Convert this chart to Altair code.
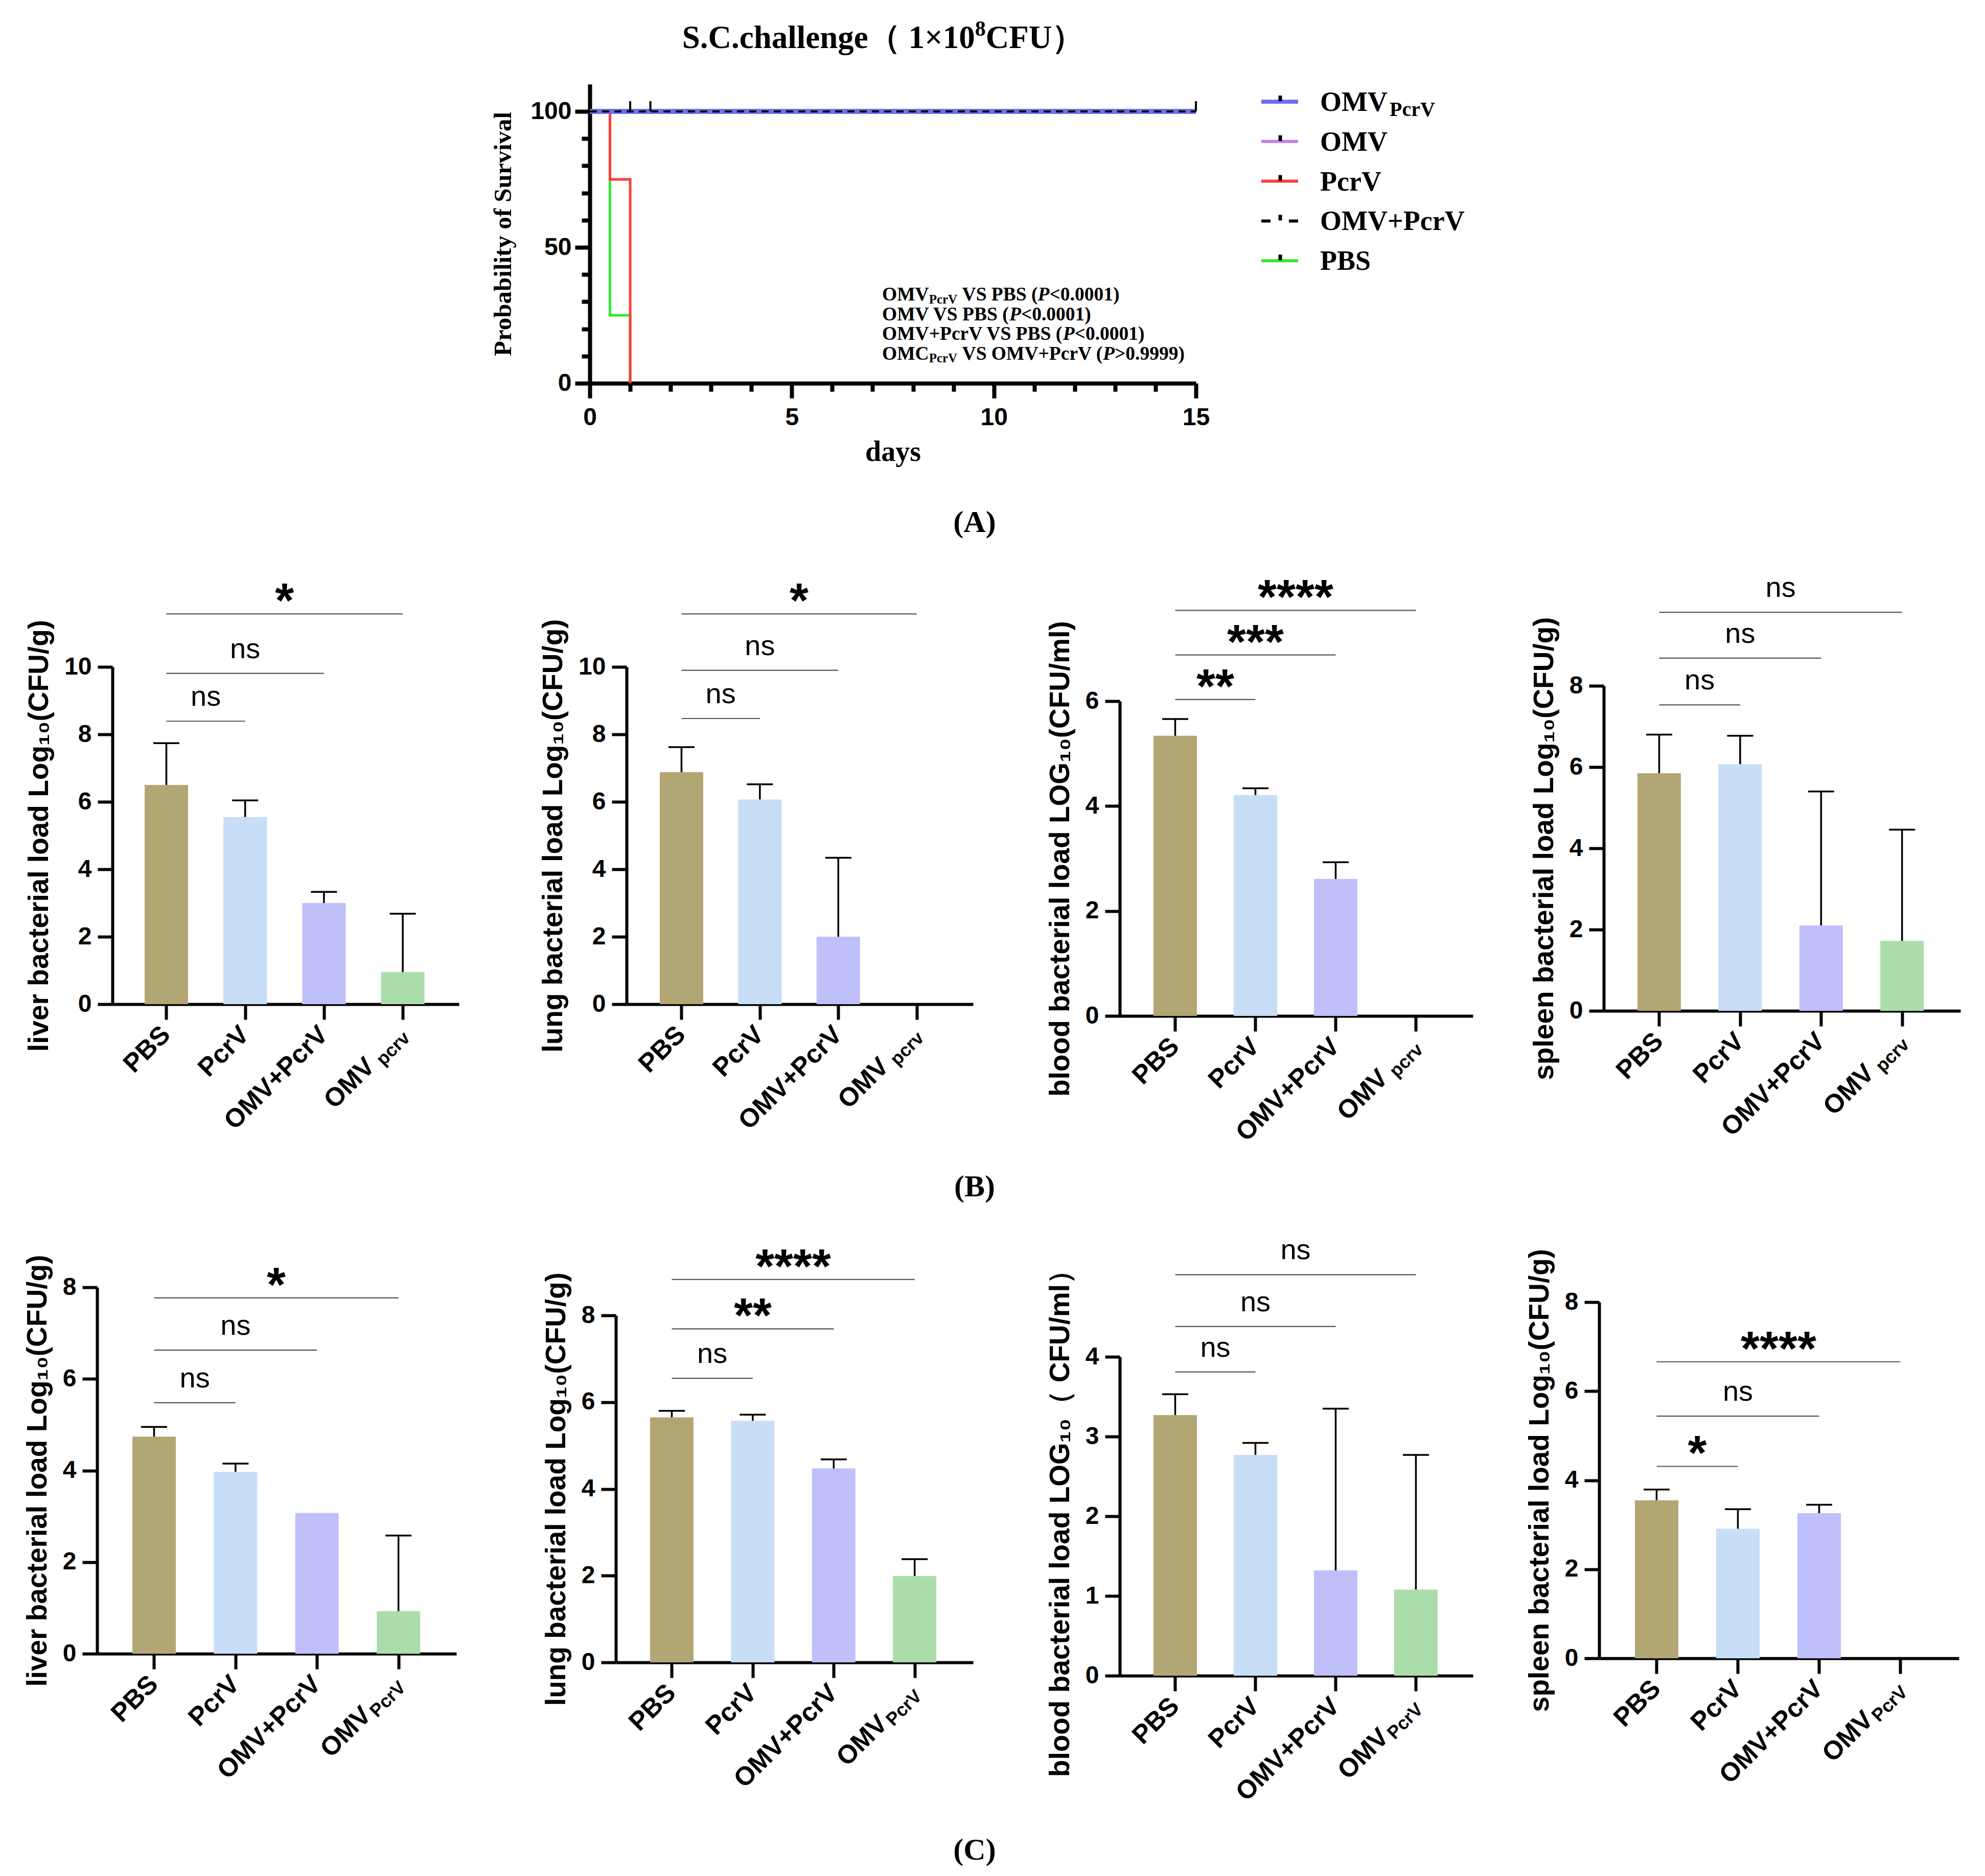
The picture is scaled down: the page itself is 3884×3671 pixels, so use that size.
import altair as alt
import pandas as pd

W, H = 3884, 3671
SANS = "Liberation Sans"
SERIF = "Liberation Serif"

# ======================= DATA =======================
groups = ["PBS", "PcrV", "OMV+PcrV", "OMVPcrV"]
tick_main = ["PBS", "PcrV", "OMV+PcrV", "OMV"]
tick_sub_b = ["", "", "", "pcrv"]
tick_sub_c = ["", "", "", "PcrV"]
bar_colors = ["#B2A774", "#C8DDF6", "#BFBFFA", "#ABDDAB"]

# (B) bacterial loads: mean and SD (upper error only)
b_liver_mean = [6.50, 5.55, 3.00, 0.95]
b_liver_sd = [1.24, 0.49, 0.33, 1.73]
b_lung_mean = [6.88, 6.07, 2.00, 0.00]
b_lung_sd = [0.74, 0.45, 2.34, 0.00]
b_blood_mean = [5.34, 4.21, 2.61, 0.00]
b_blood_sd = [0.32, 0.13, 0.32, 0.00]
b_spleen_mean = [5.85, 6.07, 2.10, 1.72]
b_spleen_sd = [0.95, 0.70, 3.30, 2.74]

# (C)
c_liver_mean = [4.74, 3.97, 3.07, 0.93]
c_liver_sd = [0.21, 0.18, 0.00, 1.65]
c_lung_mean = [5.65, 5.57, 4.47, 1.99]
c_lung_sd = [0.15, 0.14, 0.21, 0.39]
c_blood_mean = [3.27, 2.77, 1.32, 1.08]
c_blood_sd = [0.26, 0.15, 2.03, 1.69]
c_spleen_mean = [3.55, 2.91, 3.26, 0.00]
c_spleen_sd = [0.24, 0.44, 0.19, 0.00]

# significance brackets: PBS vs group index 1, 2, 3
sig_compare = [1, 2, 3]
b_liver_sig_y = [8.39, 9.81, 11.57]
b_liver_sig = ["ns", "ns", "*"]
b_lung_sig_y = [8.47, 9.90, 11.57]
b_lung_sig = ["ns", "ns", "*"]
b_blood_sig_y = [6.03, 6.88, 7.73]
b_blood_sig = ["**", "***", "****"]
b_spleen_sig_y = [7.53, 8.68, 9.81]
b_spleen_sig = ["ns", "ns", "ns"]
c_liver_sig_y = [5.48, 6.63, 7.77]
c_liver_sig = ["ns", "ns", "*"]
c_lung_sig_y = [6.55, 7.69, 8.83]
c_lung_sig = ["ns", "**", "****"]
c_blood_sig_y = [3.81, 4.38, 5.03]
c_blood_sig = ["ns", "ns", "ns"]
c_spleen_sig_y = [4.31, 5.44, 6.66]
c_spleen_sig = ["*", "ns", "****"]

# (A) survival
surv_days = {
    "PBS": [0, 0.5, 1],
    "PcrV": [0, 0.5, 1],
    "OMV": [0, 15],
    "OMVPcrV": [0, 15],
    "OMV+PcrV": [0, 15],
}
surv_pct = {
    "PBS": [100, 25, 0],
    "PcrV": [100, 75, 0],
    "OMV": [100, 100],
    "OMVPcrV": [100, 100],
    "OMV+PcrV": [100, 100],
}
censor_days = [1.0, 1.5, 15.0]
censor_pct = [100, 100, 100]
legend_order = ["OMVPcrV", "OMV", "PcrV", "OMV+PcrV", "PBS"]
legend_main = ["OMV", "OMV", "PcrV", "OMV+PcrV", "PBS"]
legend_sub = ["PcrV", "", "", "", ""]
annot_lines = [
    [("OMV", "n"), ("PcrV", "sub"), (" VS PBS (", "n"), ("P", "it"), ("<0.0001)", "n")],
    [("OMV VS PBS (", "n"), ("P", "it"), ("<0.0001)", "n")],
    [("OMV+PcrV VS PBS (", "n"), ("P", "it"), ("<0.0001)", "n")],
    [("OMC", "n"), ("PcrV", "sub"), (" VS OMV+PcrV (", "n"), ("P", "it"), (">0.9999)", "n")],
]
title_segments = [("S.C.challenge（ 1×10", "n"), ("8", "sup"), ("CFU）", "n")]

# ======================= STYLE / LAYOUT =======================
DUMMY = pd.DataFrame({"a": [0]})

TIMES_B = {' ': 250, '(': 333, ')': 333, '.': 250, '<': 570, '>': 570, '+': 570, '×': 570,
           '（': 1000, '）': 1000, 'A': 722, 'B': 667, 'C': 722, 'F': 611, 'M': 944, 'O': 778,
           'P': 611, 'S': 556, 'U': 722, 'V': 722, 'a': 500, 'c': 444, 'e': 444, 'g': 500,
           'h': 556, 'l': 278, 'n': 556, 'r': 444}
ARIAL_B = {'p': 611, 'c': 556, 'r': 389, 'v': 556, 'P': 667, 'V': 667, 'O': 778, 'M': 833}


def tw(text, size, table):
    return sum(table.get(ch, 500) for ch in text) * size / 1000.0


def txt(text, x, y, size, font=SERIF, weight="bold", style="normal", align="left",
        baseline="alphabetic", dy=0, angle=0, color="black"):
    kw = dict(font=font, fontSize=size, fontWeight=weight, fontStyle=style, align=align,
              baseline=baseline, color=color)
    if dy:
        kw["dy"] = dy
    if angle:
        kw["angle"] = angle
    return alt.Chart(DUMMY).mark_text(**kw).encode(
        x=alt.value(x), y=alt.value(y), text=alt.value(text))


def rich_line(segments, x0, y, size, sub_size, sub_drop=0.22):
    out = []
    x = x0
    for text, st in segments:
        s = size if st in ("n", "it") else sub_size
        lead = len(text) - len(text.lstrip(" "))
        x += lead * TIMES_B[' '] * size / 1000.0
        core = text.strip(" ")
        dy = 0
        if st == "sub":
            dy = size * sub_drop
        elif st == "sup":
            dy = -size * 0.38
        out.append(txt(core, x, y, s, style="italic" if st == "it" else "normal", dy=dy))
        x += tw(core, s, TIMES_B)
        trail = len(text) - len(text.rstrip(" "))
        x += trail * TIMES_B[' '] * size / 1000.0
    return out, x - x0


layers = []

# ---------------- (A) survival ----------------
SX0, SX1, SY0 = 1154, 2340, 750
PX_PER_PCT = 5.32
sx = alt.Scale(domain=[0, 15], range=[SX0, SX1], nice=False, zero=False)
sy = alt.Scale(domain=[0, 110], range=[SY0, SY0 - 110 * PX_PER_PCT], nice=False)

surv_style = {
    "PBS": dict(color="#33E633", strokeWidth=5),
    "PcrV": dict(color="#FF3B3B", strokeWidth=5),
    "OMV": dict(color="#C77DF0", strokeWidth=6),
    "OMVPcrV": dict(color="#6F6FF0", strokeWidth=10),
    "OMV+PcrV": dict(color="black", strokeWidth=4, strokeDash=[14, 10]),
}
major5 = "datum.value % 5 === 0"
sx_axis = alt.Axis(orient="bottom", offset=-(H - SY0), values=list(range(16)),
                   labelExpr=f"{major5} ? datum.label : ''",
                   tickSize={"condition": {"test": major5, "value": 29}, "value": 16},
                   tickWidth=8, domainWidth=8, domainColor="black", tickColor="black",
                   labelFont=SANS, labelFontWeight="bold", labelFontSize=48, labelColor="black",
                   labelPadding=14, labelFlush=False, grid=False,
                   title="days", titleFont=SERIF, titleFontSize=56, titleFontWeight="bold",
                   titleColor="black", titlePadding=16)
major50 = "datum.value % 50 === 0"
sy_axis = alt.Axis(orient="left", offset=-SX0, values=list(range(0, 101, 10)),
                   labelExpr=f"{major50} ? datum.label : ''",
                   tickSize={"condition": {"test": major50, "value": 29}, "value": 16},
                   tickWidth=8, domainWidth=8, domainColor="black", tickColor="black",
                   labelFont=SANS, labelFontWeight="bold", labelFontSize=48, labelColor="black",
                   labelPadding=7, labelFlush=False, grid=False,
                   title="Probability of Survival", titleFont=SERIF, titleFontSize=49,
                   titleFontWeight="bold", titleColor="black", titlePadding=28)

surv_layers = []
for name in ["PBS", "PcrV", "OMV", "OMVPcrV", "OMV+PcrV"]:
    df = pd.DataFrame({"day": surv_days[name], "pct": surv_pct[name]})
    surv_layers.append(
        alt.Chart(df).mark_line(interpolate="step-after", **surv_style[name]).encode(
            x=alt.X("day:Q", scale=sx, axis=sx_axis),
            y=alt.Y("pct:Q", scale=sy, axis=sy_axis),
        ))
cdf = pd.DataFrame({"day": censor_days, "pct": censor_pct})
surv_layers.append(
    alt.Chart(cdf).mark_tick(orient="vertical", size=20, thickness=4, color="black",
                             yOffset=-10, opacity=1).encode(
        x=alt.X("day:Q", scale=sx, axis=sx_axis), y=alt.Y("pct:Q", scale=sy, axis=sy_axis)))
layers.append(alt.layer(*surv_layers))

# title
t_size = 63
_, t_w = rich_line(title_segments, 0, 0, t_size, 42)
t_layers, _ = rich_line(title_segments, 1728 - t_w / 2, 94, t_size, 42)
layers += t_layers

# annotation block
for k, segs in enumerate(annot_lines):
    ls, _ = rich_line(segs, 1726, 588 + 38.5 * k, 37.5, 25, sub_drop=0.15)
    layers += ls

# legend
LEG_Y0, LEG_DY = 199, 77.8
for k, name in enumerate(legend_order):
    yy = LEG_Y0 + LEG_DY * k
    st = surv_style[name]
    if "strokeDash" in st:
        layers.append(alt.Chart(DUMMY).mark_rule(color="black", strokeWidth=6,
                                                 strokeDash=[18, 36]).encode(
            x=alt.value(2468), x2=alt.value(2540), y=alt.value(yy)))
    else:
        layers.append(alt.Chart(DUMMY).mark_rule(color=st["color"],
                                                 strokeWidth=8 if name == "OMVPcrV" else 6).encode(
            x=alt.value(2468), x2=alt.value(2540), y=alt.value(yy)))
    layers.append(alt.Chart(DUMMY).mark_rule(color="black", strokeWidth=7).encode(
        x=alt.value(2505), y=alt.value(yy - 12), y2=alt.value(yy - 1)))
    layers.append(txt(legend_main[k], 2583, yy + 18, 54))
    if legend_sub[k]:
        layers.append(txt(legend_sub[k], 2583 + tw(legend_main[k], 54, TIMES_B) + 4,
                          yy + 28, 40))

# panel letters
layers.append(txt("(A)", 1907, 1023, 60, align="center", baseline="middle"))
layers.append(txt("(B)", 1907, 2323, 60, align="center", baseline="middle"))
layers.append(txt("(C)", 1907, 3621, 60, align="center", baseline="middle"))

# ---------------- bar panels ----------------
BAR_W = 85


def bar_panel(mean, sd, sig_y, sig, ytitle, tick_sub, ymax, ystep, lay):
    x0, xe, c0, step, ybot, ytop = lay
    xs = alt.Scale(domain=[(x0 - c0) / step, (xe - c0) / step], range=[x0, xe],
                   nice=False, zero=False)
    ys = alt.Scale(domain=[0, ymax], range=[ybot, ytop], nice=False)
    df = pd.DataFrame({"i": list(range(4)), "group": groups, "mean": mean, "sd": sd,
                       "color": bar_colors, "main": tick_main, "sub": tick_sub})
    df["upper"] = df["mean"] + df["sd"]
    sdf = pd.DataFrame({"xs": [0] * 3, "xe": sig_compare,
                        "xm": [k / 2 for k in sig_compare], "lev": sig_y, "lab": sig})

    xaxis = alt.Axis(orient="bottom", offset=-(H - ybot), values=[0, 1, 2, 3], labels=False,
                     title=None, grid=False, domainWidth=6, tickWidth=6, tickSize=30,
                     domainColor="black", tickColor="black")
    yaxis = alt.Axis(orient="left", offset=-x0, values=list(range(0, ymax + 1, ystep)),
                     grid=False, domainWidth=6, tickWidth=6, tickSize=29,
                     domainColor="black", tickColor="black",
                     labelFont=SANS, labelFontWeight="bold", labelFontSize=48,
                     labelColor="black", labelPadding=12, labelFlush=False,
                     title=ytitle, titleFont=SANS, titleFontWeight="bold", titleFontSize=55,
                     titleColor="black", titlePadding=20)
    X = lambda f: alt.X(f, scale=xs, axis=xaxis)
    Y = lambda f: alt.Y(f, scale=ys, axis=yaxis)

    base = alt.Chart(df)
    bars = base.mark_bar(size=BAR_W, orient="vertical").encode(
        x=X("i:Q"),
        y=alt.Y("mean:Q", scale=ys, axis=yaxis, stack=None),
        color=alt.Color("color:N", scale=None))
    err = base.transform_filter("datum.sd > 0")
    stems = err.mark_rule(color="black", strokeWidth=3.5).encode(
        x=X("i:Q"), y=Y("mean:Q"), y2="upper:Q")
    caps = err.mark_tick(orient="horizontal", size=51, thickness=3.5, color="black",
                         opacity=1).encode(x=X("i:Q"), y=Y("upper:Q"))
    sbase = alt.Chart(sdf)
    brk = sbase.mark_rule(color="#555555", strokeWidth=2.2).encode(
        x=X("xs:Q"), x2="xe:Q", y=Y("lev:Q"))
    ns = sbase.transform_filter("datum.lab == 'ns'").mark_text(
        font=SANS, fontSize=56, fontWeight="normal", color="black", baseline="alphabetic",
        dy=-30).encode(x=X("xm:Q"), y=Y("lev:Q"), text="lab:N")
    stars = sbase.transform_filter("datum.lab != 'ns'").mark_text(
        font=SANS, fontSize=95, fontWeight="bold", color="black", baseline="alphabetic",
        dy=6).encode(x=X("xm:Q"), y=Y("lev:Q"), text="lab:N")

    lab_y = ybot + 52
    lab_main = base.transform_filter("datum.sub == ''").mark_text(
        font=SANS, fontSize=51, fontWeight="bold", color="black", angle=315, align="right",
        baseline="middle").encode(x=X("i:Q"), y=alt.value(lab_y), text="main:N")
    sub_txt = tick_sub[3]
    sub_w = sum(ARIAL_B.get(ch, 556) for ch in sub_txt) * 36 / 1000.0
    gap = 12 if sub_txt.islower() else 4
    lab_main2 = base.transform_filter("datum.sub != ''").mark_text(
        font=SANS, fontSize=51, fontWeight="bold", color="black", angle=315, align="right",
        baseline="middle", dx=-(sub_w + gap)).encode(x=X("i:Q"), y=alt.value(lab_y), text="main:N")
    lab_sub = base.transform_filter("datum.sub != ''").mark_text(
        font=SANS, fontSize=36, fontWeight="bold", color="black", angle=315, align="right",
        baseline="middle", dy=12).encode(x=X("i:Q"), y=alt.value(lab_y), text="sub:N")
    return alt.layer(bars, stems, caps, brk, ns, stars, lab_main, lab_main2, lab_sub)


LOGT = "Log\u2081\u2080(CFU/g)"
panels = [
    (b_liver_mean, b_liver_sd, b_liver_sig_y, b_liver_sig, "liver bacterial load " + LOGT,
     tick_sub_b, 10, 2, (220, 898, 322, 156.5, 1965, 1305)),
    (b_lung_mean, b_lung_sd, b_lung_sig_y, b_lung_sig, "lung bacterial load " + LOGT,
     tick_sub_b, 10, 2, (1226, 1904, 1330, 155.7, 1965, 1305)),
    (b_blood_mean, b_blood_sd, b_blood_sig_y, b_blood_sig,
     "blood bacterial load LOG\u2081\u2080(CFU/ml)",
     tick_sub_b, 6, 2, (2191, 2882, 2296, 159.3, 1988, 1372)),
    (b_spleen_mean, b_spleen_sd, b_spleen_sig_y, b_spleen_sig, "spleen bacterial load " + LOGT,
     tick_sub_b, 8, 2, (3138, 3836, 3243, 160.7, 1978, 1342)),
    (c_liver_mean, c_liver_sd, c_liver_sig_y, c_liver_sig, "liver bacterial load " + LOGT,
     tick_sub_c, 8, 2, (190, 893, 298, 161.7, 3236, 2519)),
    (c_lung_mean, c_lung_sd, c_lung_sig_y, c_lung_sig, "lung bacterial load " + LOGT,
     tick_sub_c, 8, 2, (1205, 1904, 1311, 160.7, 3253, 2574)),
    (c_blood_mean, c_blood_sd, c_blood_sig_y, c_blood_sig,
     "blood bacterial load LOG\u2081\u2080\uff08 CFU/ml\uff09",
     tick_sub_c, 4, 1, (2191, 2882, 2296, 159.3, 3279, 2655)),
    (c_spleen_mean, c_spleen_sd, c_spleen_sig_y, c_spleen_sig, "spleen bacterial load " + LOGT,
     tick_sub_c, 8, 2, (3129, 3833, 3238, 161.3, 3245, 2548)),
]
for p in panels:
    layers.append(bar_panel(*p))

chart = alt.layer(*layers).resolve_scale(
    x="independent", y="independent"
).properties(
    width=W, height=H, padding=0, background="white",
    autosize=alt.AutoSizeParams(type="none"),
).configure_view(stroke=None)

chart.save("out.html", embed_options={"renderer": "svg", "actions": False})
